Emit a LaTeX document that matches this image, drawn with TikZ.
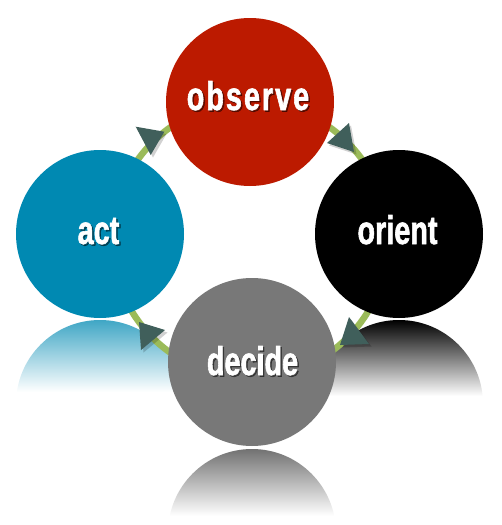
\documentclass[tikz,border=0pt]{standalone}
\usepackage{fontspec}
\newfontfamily\lblfont[FakeStretch=0.72,FakeBold=1.4]{Liberation Sans Bold}
\newfontfamily\lblwidefont[FakeStretch=0.72,FakeBold=1.4,LetterSpace=5]{Liberation Sans Bold}
\definecolor{obsred}{RGB}{188,26,0}
\definecolor{actblue}{RGB}{0,137,178}
\definecolor{decgray}{RGB}{120,120,120}
\definecolor{ringgreen}{RGB}{155,187,89}
\definecolor{tri}{RGB}{64,95,91}
\tikzset{
  circ/.style={circle, minimum size=168pt, inner sep=0pt, draw=none},
  lbl/.style={anchor=base, text=white, font=\lblfont\fontsize{40}{44}\selectfont, inner sep=0pt},
  lblshadow/.style={anchor=base, text=black, opacity=0.45, font=\lblfont\fontsize{40}{44}\selectfont, inner sep=0pt},
  wide/.style={font=\lblwidefont\fontsize{40}{44}\selectfont},
  tristyle/.style={fill=tri, draw=none},
  trishadow/.style={fill=black, opacity=0.18, draw=none},
  ring/.style={draw=ringgreen, line width=6.5pt}
}
\begin{document}
\begin{tikzpicture}[x=1pt,y=-1pt]
\useasboundingbox (0,0) rectangle (502,525);
% reflections
\begin{scope}
  \clip (100,404) circle[radius=84pt];
  \shade[top color=actblue!75!white, bottom color=white] (14,320) rectangle (186,392);
\end{scope}
\begin{scope}
  \clip (399,404) circle[radius=84pt];
  \shade[top color=black, bottom color=white] (313,320) rectangle (485,396);
\end{scope}
\begin{scope}
  \clip (252,533) circle[radius=84pt];
  \shade[top color=decgray!95!black, bottom color=white] (166,449) rectangle (338,516);
\end{scope}
% ring connector
\coordinate (hub) at (250,240);
\draw[ring] (hub) circle[radius=138pt];
% circles
\node[circ, fill=obsred] (observe) at (250,102) {};
\node[circ, fill=actblue] (act) at (100,234) {};
\node[circ, fill=black] (orient) at (399,234) {};
\node[circ, fill=decgray] (decide) at (252,362) {};
% arrow heads (shadows then triangles)
\fill[trishadow] (137.5,129) -- (166.5,134) -- (153,157.5) -- cycle;
\fill[trishadow] (329,145.5) -- (351,125.5) -- (356.5,154.5) -- cycle;
\fill[trishadow] (351,319.5) -- (371.5,346.5) -- (342.5,347.5) -- cycle;
\fill[trishadow] (141,324.5) -- (167.5,332.5) -- (143.5,352.5) -- cycle;
\fill[tristyle] (135.7,126.7) -- (164.3,131.7) -- (150.7,155) -- cycle;
\fill[tristyle] (327,143) -- (349,123) -- (354,152) -- cycle;
\fill[tristyle] (349,317) -- (369,344) -- (340,345) -- cycle;
\fill[tristyle] (139,322) -- (165,330) -- (141,350) -- cycle;
% labels
\node[lblshadow, wide] at (249.5,111.5) {observe};
\node[lbl, wide] (observe-t) at (248,110) {observe};
\node[lblshadow] at (100,245.5) {act};
\node[lbl] (act-t) at (98.5,244) {act};
\node[lblshadow] at (399,245.5) {orient};
\node[lbl] (orient-t) at (397.5,244) {orient};
\node[lblshadow] at (254,376.5) {decide};
\node[lbl] (decide-t) at (252.5,375) {decide};
\end{tikzpicture}
\end{document}
